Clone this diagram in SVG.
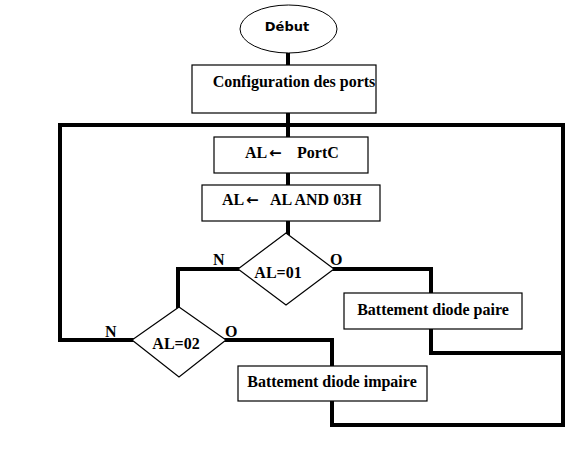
<svg xmlns="http://www.w3.org/2000/svg" width="587" height="460" viewBox="0 0 587 460">
<style>
.box{fill:#fff;stroke:#000;stroke-width:1.2}
text{font-family:'Liberation Serif','DejaVu Serif','Times New Roman',serif;font-weight:bold;font-size:16px;fill:#000}
.t{text-anchor:middle}
.ar{font-family:'DejaVu Sans',sans-serif;font-size:15px;font-weight:bold}
.c{fill:none;stroke:#000;stroke-width:4;stroke-linejoin:miter;stroke-linecap:square}
</style>
<rect width="587" height="460" fill="#fff"/>
<g id="connectors">
<path class="c" d="M288,53 V64"/>
<path class="c" d="M288,113 V137"/>
<path class="c" d="M60,340 V125 H563 V425 H332 V401"/>
<path class="c" d="M288,173 V185"/>
<path class="c" d="M288,221 V233"/>
<path class="c" d="M238,269 H178 V307"/>
<path class="c" d="M334,269 H431 V293"/>
<path class="c" d="M431,329 V353 H563"/>
<path class="c" d="M132,340 H60"/>
<path class="c" d="M226,340 H332 V366"/>
</g>
<g id="debut">
<ellipse cx="288.5" cy="29" rx="48.5" ry="24" fill="#fff" stroke="#000" stroke-width="1"/>
<text x="287" y="31" style="font-family:'DejaVu Sans',Verdana,sans-serif;font-size:13px" text-anchor="middle">Début</text>
</g>
<g id="config">
<rect class="box" x="192" y="65" width="184" height="48"/>
<text class="t" x="294" y="87">Configuration des ports</text>
</g>
<g id="portc">
<rect class="box" x="214" y="137" width="154" height="36"/>
<text y="158"><tspan x="245">AL</tspan><tspan class="ar" x="269">←</tspan><tspan x="297">PortC</tspan></text>
</g>
<g id="and">
<rect class="box" x="202" y="185" width="178" height="36"/>
<text y="205"><tspan x="222">AL</tspan><tspan class="ar" x="246">←</tspan><tspan x="270">AL AND 03H</tspan></text>
</g>
<g id="test01">
<polygon class="box" points="286,233 334,269 286,305 238,269"/>
<text class="t" x="278" y="278">AL=01</text>
<text x="213" y="265">N</text>
<text x="330" y="265">O</text>
</g>
<g id="paire">
<rect class="box" x="344" y="293" width="178" height="36"/>
<text class="t" x="433" y="315">Battement diode paire</text>
</g>
<g id="test02">
<polygon class="box" points="179,307 226,340 179,377 132,340"/>
<text class="t" x="176" y="349">AL=02</text>
<text x="105" y="337">N</text>
<text x="225" y="337">O</text>
</g>
<g id="impaire">
<rect class="box" x="238" y="366" width="189" height="35"/>
<text class="t" x="332" y="387">Battement diode impaire</text>
</g>
</svg>
